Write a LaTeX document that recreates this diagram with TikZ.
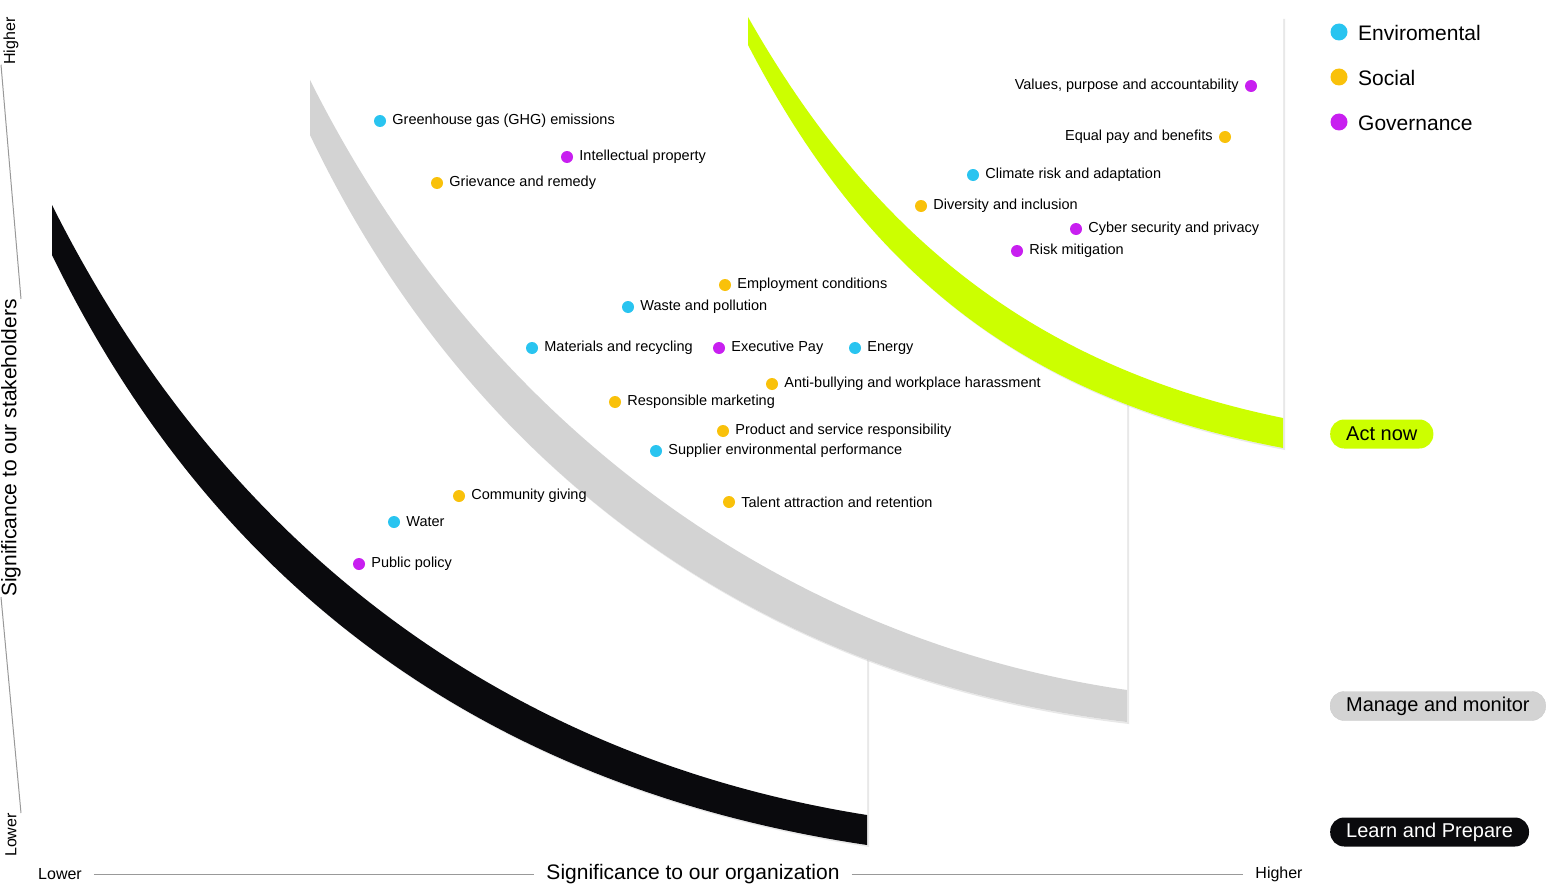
\documentclass[tikz,border=0pt]{standalone}
\usepackage{fontspec}
\setmainfont{Liberation Sans}
\usetikzlibrary{shadows}
\definecolor{envc}{HTML}{29C4F0}
\definecolor{socc}{HTML}{F9C10A}
\definecolor{govc}{HTML}{C81FF0}
\definecolor{limec}{HTML}{CCFF00}
\definecolor{greyc}{HTML}{D3D3D3}
\definecolor{blackc}{HTML}{0A0A0D}
\tikzset{
  pagebox/.style={fill=white, drop shadow={opacity=0.18, shadow xshift=2pt, shadow yshift=-2pt}},
  lbl/.style={font=\fontsize{14.5}{16}\selectfont, inner sep=0pt, anchor=west},
  lblr/.style={font=\fontsize{14.5}{16}\selectfont, inner sep=0pt, anchor=east},
  dotm/.style={circle, inner sep=0pt, minimum size=12pt},
  legdot/.style={circle, inner sep=0pt, minimum size=17pt},
  legtxt/.style={font=\fontsize{21}{24}\selectfont, inner sep=0pt, anchor=west},
  pill/.style={rounded corners=14pt, minimum height=29pt, inner xsep=16pt, inner ysep=0pt, anchor=west, font=\fontsize{20}{24}\selectfont},
  axtxt/.style={font=\fontsize{16}{18}\selectfont, inner sep=0pt},
  axbig/.style={font=\fontsize{21}{24}\selectfont, inner sep=0pt},
  axline/.style={draw=gray!80, line width=1pt}
}
\newcommand{\matitem}[4]{\node[dotm, fill=#1] (#2) at #3 {}; \node[lbl] (#2t) at ([xshift=6pt]#2.east) {#4};}
\newcommand{\matitemr}[4]{\node[dotm, fill=#1] (#2) at #3 {}; \node[lblr] (#2t) at ([xshift=-6pt]#2.west) {#4};}
\begin{document}
\begin{tikzpicture}[x=1pt,y=-1pt]
\useasboundingbox (0,0) rectangle (1560,888);
% black page
\path[pagebox] (52,203) -- (867,203) -- (867,845) .. controls (500,790) and (220,600) .. (52,255) -- cycle;
\fill[blackc] (52,205) .. controls (230,560) and (520,760) .. (867,815) -- (867,845) .. controls (500,790) and (220,600) .. (52,255) -- cycle;
% grey page
\path[pagebox] (310,78) -- (1127,78) -- (1127,722) .. controls (760,680) and (470,470) .. (310,135) -- cycle;
\fill[greyc] (310,80) .. controls (480,420) and (780,640) .. (1127,690) -- (1127,722) .. controls (760,680) and (470,470) .. (310,135) -- cycle;
% green page
\path[pagebox] (748,17) -- (1283,17) -- (1283,448) .. controls (1030,400) and (870,280) .. (748,45) -- cycle;
\fill[limec] (748,17) .. controls (880,250) and (1050,370) .. (1283,418) -- (1283,448) .. controls (1030,400) and (870,280) .. (748,45) -- cycle;
% items
\matitem{envc}{ghg}{(380,121)}{Greenhouse gas (GHG) emissions}
\matitem{govc}{ip}{(567,157)}{Intellectual property}
\matitem{socc}{grv}{(437,183)}{Grievance and remedy}
\matitemr{govc}{val}{(1251,86)}{Values, purpose and accountability}
\matitemr{socc}{eqp}{(1225,137)}{Equal pay and benefits}
\matitem{envc}{clim}{(973,175)}{Climate risk and adaptation}
\matitem{socc}{div}{(921,206)}{Diversity and inclusion}
\matitem{govc}{cyb}{(1076,229)}{Cyber security and privacy}
\matitem{govc}{risk}{(1017,251)}{Risk mitigation}
\matitem{socc}{emp}{(725,285)}{Employment conditions}
\matitem{envc}{wst}{(628,307)}{Waste and pollution}
\matitem{envc}{mat}{(532,348)}{Materials and recycling}
\matitem{govc}{exe}{(719,348)}{Executive Pay}
\matitem{envc}{ene}{(855,348)}{Energy}
\matitem{socc}{anti}{(772,384)}{Anti-bullying and workplace harassment}
\matitem{socc}{resp}{(615,402)}{Responsible marketing}
\matitem{socc}{prod}{(723,431)}{Product and service responsibility}
\matitem{envc}{supp}{(656,451)}{Supplier environmental performance}
\matitem{socc}{comm}{(459,496)}{Community giving}
\matitem{envc}{wat}{(394,522)}{Water}
\matitem{govc}{pub}{(359,564)}{Public policy}
\matitem{socc}{tal}{(729,502)}{Talent attraction and retention}
% legend
\node[legdot, fill=envc] (le) at (1339,32) {};
\node[legtxt] (let) at (1358,33) {Enviromental};
\node[legdot, fill=socc] (ls) at (1339,77) {};
\node[legtxt] (lst) at (1358,78) {Social};
\node[legdot, fill=govc] (lg) at (1339,122) {};
\node[legtxt] (lgt) at (1358,123) {Governance};
\node[pill, fill=limec] (act) at (1330,434) {Act now};
\node[pill, fill=greyc, draw=gray!40] (mm) at (1330,706) {Manage and monitor};
\node[pill, fill=blackc, text=white] (lp) at (1330,832) {Learn and Prepare};
% vertical axis
\node[axtxt, rotate=90] (vh) at (11,41) {Higher};
\node[axbig, rotate=90] (vs) at (11,448) {Significance to our stakeholders};
\node[axtxt, rotate=90] (vl) at (11,835) {Lower};
\draw[axline] ([xshift=-10pt]vh.west) -- ([xshift=10pt]vs.east);
\draw[axline] ([xshift=-10pt]vs.west) -- ([xshift=10pt]vl.east);
% horizontal axis
\node[axtxt] (hl) at (60,874) {Lower};
\node[axbig] (hs) at (693,874) {Significance to our organization};
\node[axtxt] (hh) at (1279,874) {Higher};
\draw[axline] ([xshift=12pt]hl.east) -- ([xshift=-12pt]hs.west);
\draw[axline] ([xshift=12pt]hs.east) -- ([xshift=-12pt]hh.west);
\end{tikzpicture}
\end{document}
